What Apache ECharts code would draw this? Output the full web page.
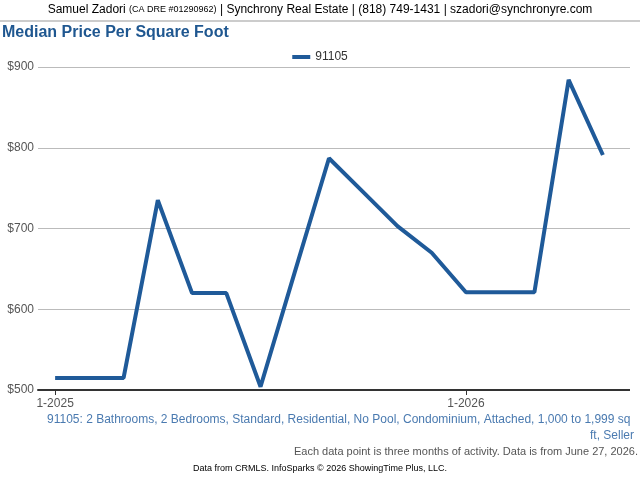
<!DOCTYPE html>
<html><head><meta charset="utf-8">
<script src="https://cdn.jsdelivr.net/npm/echarts@6/dist/echarts.min.js"></script>
<style>body{margin:0}#c{width:640px;height:480px}</style></head>
<body><div id="c"></div>
<script>
const categories=['1-2025','2-2025','3-2025','4-2025','5-2025','6-2025','7-2025','8-2025','9-2025','10-2025','11-2025','12-2025','1-2026','2-2026','3-2026','4-2026','5-2026'];
const values=[515,515,515,735,620,620,504,646,787,745,703,670,621,621,621,884,791];
const yTicks=[500,600,700,800,900];
const labelIdx=[0,12];
const chart=echarts.init(document.getElementById('c'));
chart.setOption({
  animation:false,
  graphic:[
    {type:'line',shape:{x1:0,y1:21,x2:640,y2:21},style:{stroke:'#999',lineWidth:1}},
    {type:'line',shape:{x1:620,y1:67.5,x2:630,y2:67.5},style:{stroke:'#bbb',lineWidth:1}},
    {type:'line',shape:{x1:620,y1:148.5,x2:630,y2:148.5},style:{stroke:'#bbb',lineWidth:1}},
    {type:'line',shape:{x1:620,y1:228.5,x2:630,y2:228.5},style:{stroke:'#bbb',lineWidth:1}},
    {type:'line',shape:{x1:620,y1:309.5,x2:630,y2:309.5},style:{stroke:'#bbb',lineWidth:1}},
    {type:'line',shape:{x1:620,y1:390,x2:630,y2:390},style:{stroke:'#333',lineWidth:2}},
    {type:'text',left:'center',top:4,style:{rich:{a:{fontSize:12,fill:'#000',fontFamily:'Arial'},b:{fontSize:9,fill:'#000',fontFamily:'Arial'}},text:'{a|Samuel Zadori }{b|(CA DRE #01290962)}{a| | Synchrony Real Estate | (818) 749-1431 | szadori@synchronyre.com}'}},
    {type:'text',left:2,top:25,style:{text:'Median Price Per Square Foot',fontSize:16,fontWeight:'bold',fill:'#1f5790',fontFamily:'Arial'}},
    {type:'text',left:47,top:414,style:{text:'91105: 2 Bathrooms, 2 Bedrooms, Standard, Residential, No Pool, Condominium, Attached, 1,000 to 1,999 sq',fontSize:12,fill:'#4a7ab0',fontFamily:'Arial'}},
    {type:'text',right:6,top:430,style:{text:'ft, Seller',fontSize:12,fill:'#4a7ab0',fontFamily:'Arial',align:'right'}},
    {type:'text',right:2,top:446,style:{text:'Each data point is three months of activity. Data is from June 27, 2026.',fontSize:11,fill:'#555',fontFamily:'Arial',align:'right'}},
    {type:'text',left:'center',top:464,style:{text:'Data from CRMLS. InfoSparks © 2026 ShowingTime Plus, LLC.',fontSize:9,fill:'#000',fontFamily:'Arial'}}
  ],
  legend:{top:46,left:'center',itemWidth:18,itemHeight:4,icon:'rect',textStyle:{fontSize:12,color:'#333',fontFamily:'Arial'},data:['91105']},
  grid:{left:38,right:20,top:67,bottom:90},
  xAxis:{type:'category',data:categories,boundaryGap:true,
    axisLine:{lineStyle:{color:'#333',width:2}},
    axisTick:{show:true,alignWithLabel:true,interval:(i)=>labelIdx.includes(i),lineStyle:{color:'#333'}},
    axisLabel:{interval:(i)=>labelIdx.includes(i),color:'#555',fontSize:12,fontFamily:'Arial'}},
  yAxis:{type:'value',min:500,max:900,interval:100,
    axisLabel:{formatter:v=>'$'+v,color:'#555',fontSize:12,fontFamily:'Arial',margin:4},
    splitLine:{lineStyle:{color:'#bbb'}},axisLine:{show:false},axisTick:{show:false}},
  series:[{name:'91105',type:'line',data:values,symbol:'none',lineStyle:{width:4,color:'#1f5a99'},itemStyle:{color:'#1f5a99'}}]
});
</script></body></html>
